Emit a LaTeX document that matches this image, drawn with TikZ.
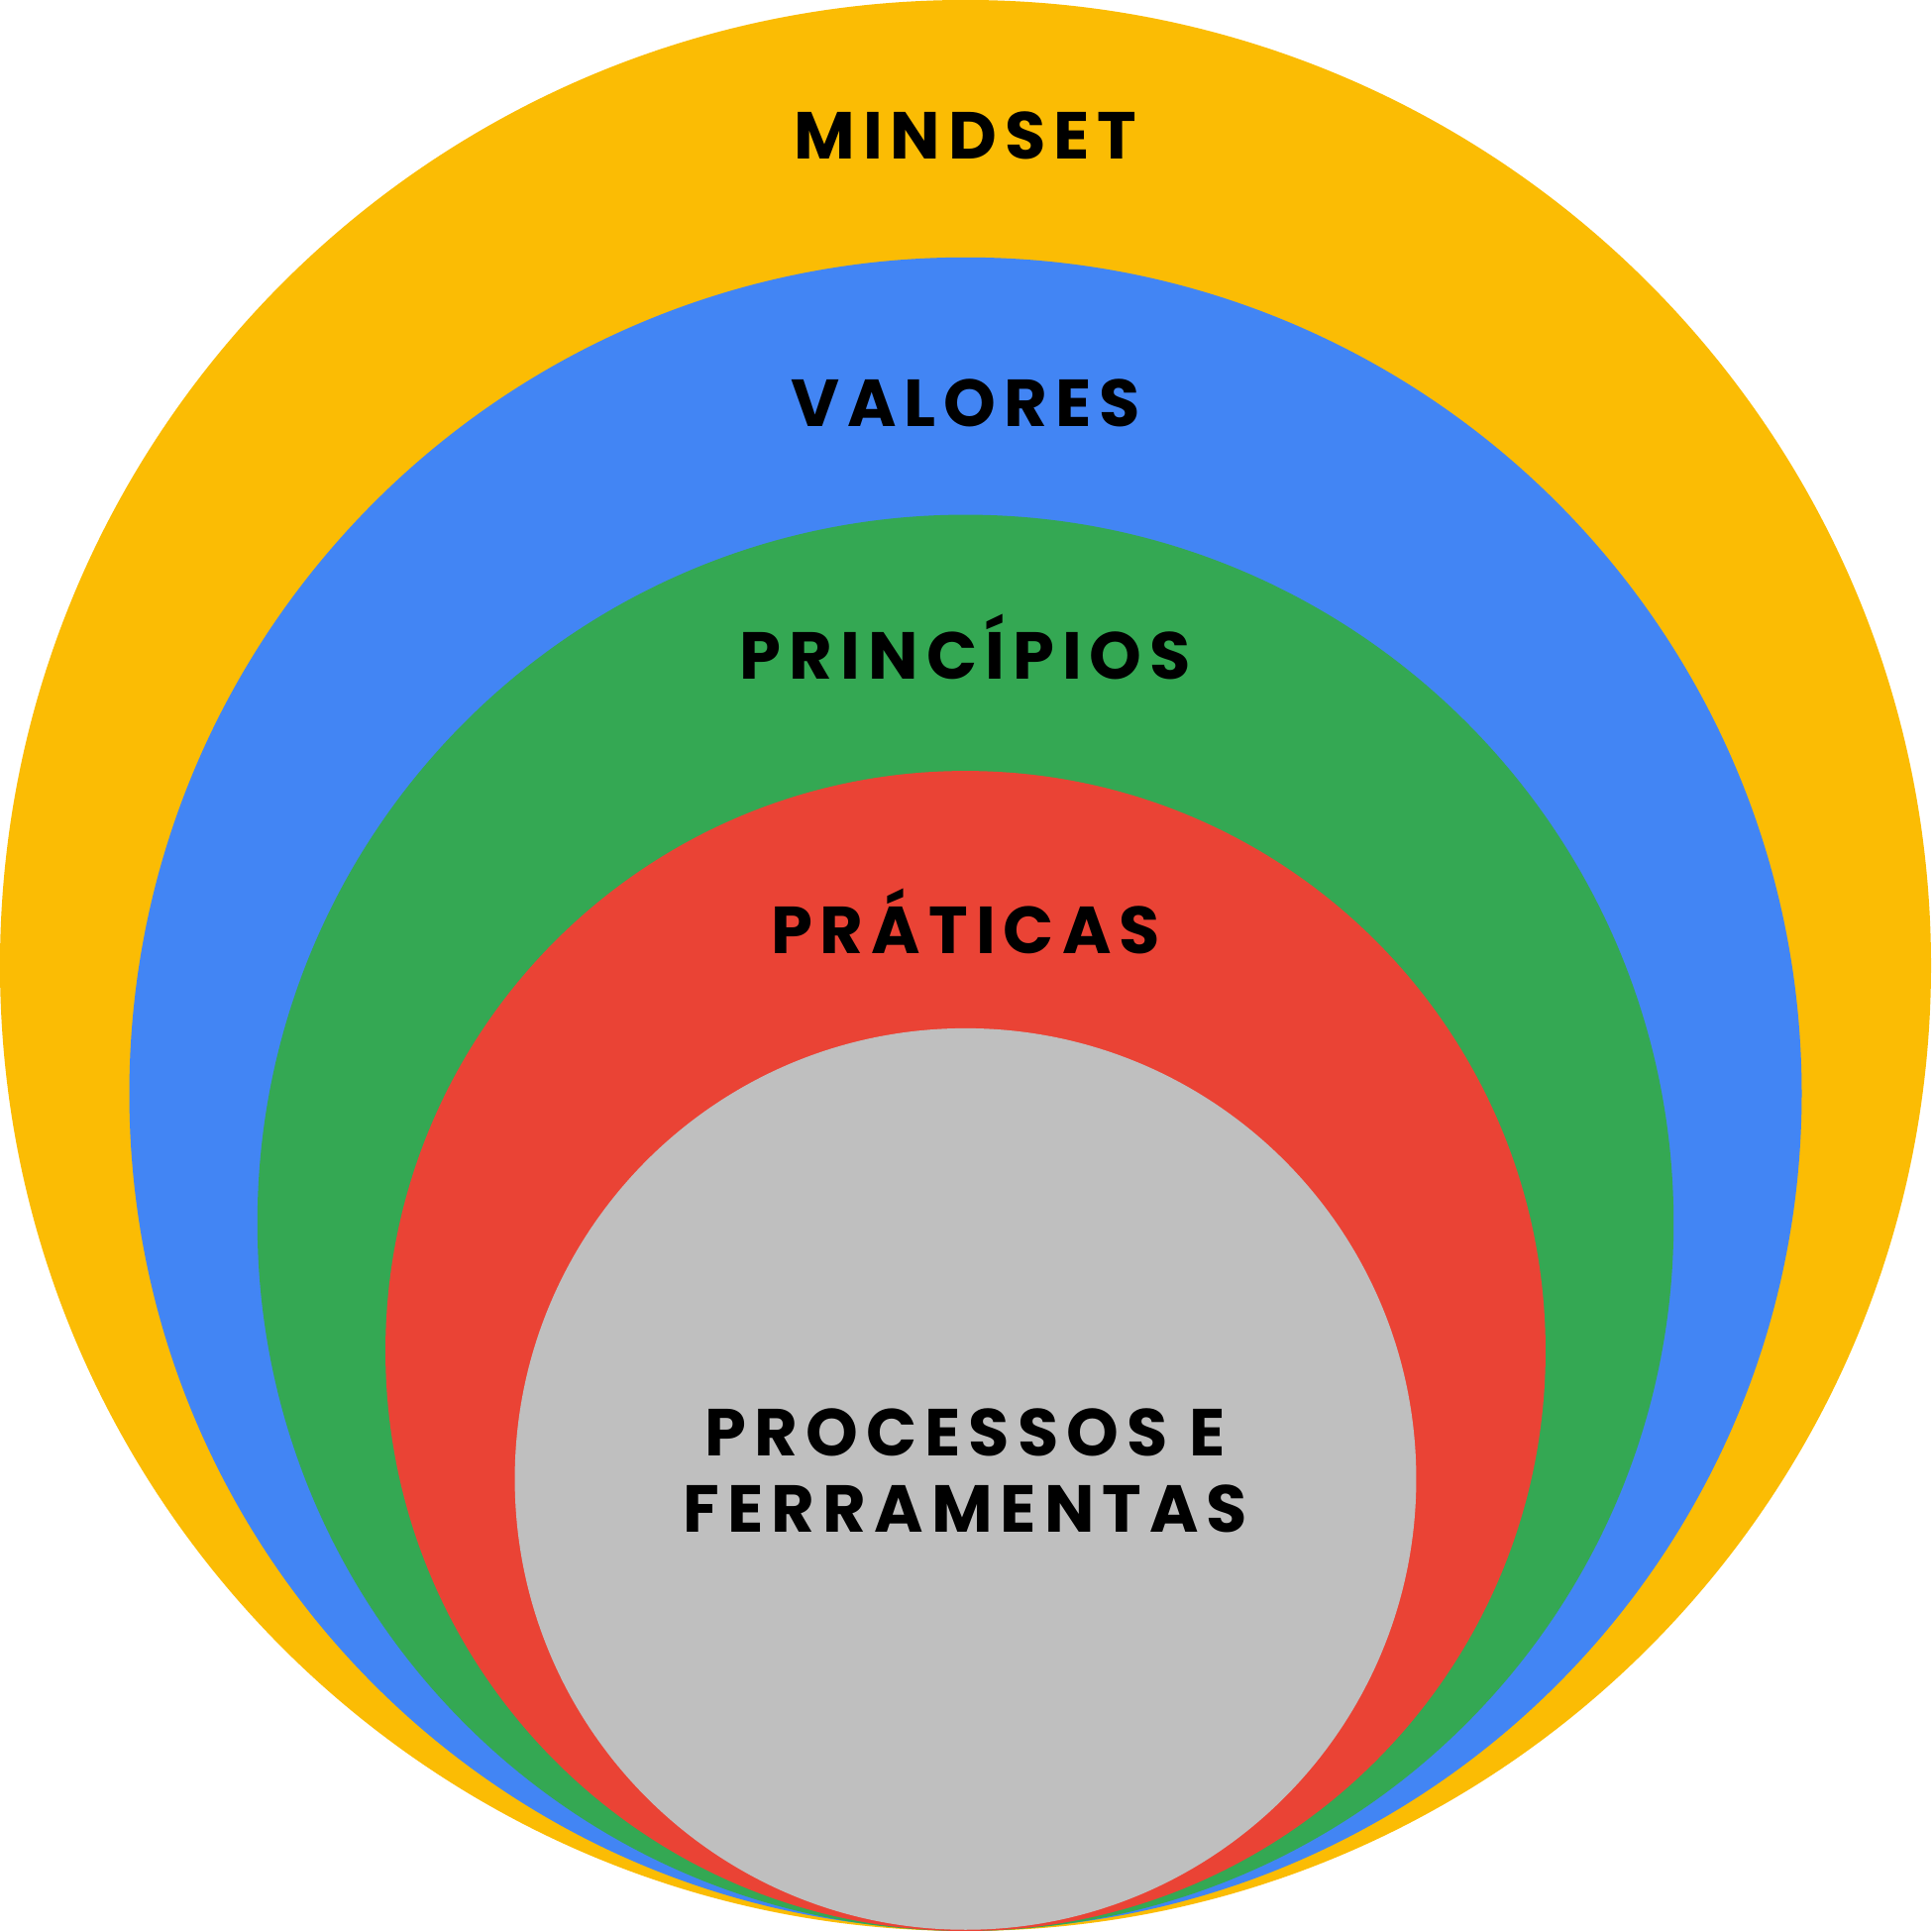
\documentclass[tikz,border=0pt]{standalone}
\usepackage{fontspec}
\setmainfont{Poppins}
\definecolor{gyellow}{HTML}{FBBC04}
\definecolor{gblue}{HTML}{4285F4}
\definecolor{ggreen}{HTML}{34A853}
\definecolor{gred}{HTML}{EA4335}
\definecolor{ggray}{HTML}{BFBFBF}
\tikzset{
  layer/.style={font=\fontsize{54}{62}\selectfont\bfseries\addfontfeatures{LetterSpace=12}, align=center, text=black}
}
\begin{document}
\begin{tikzpicture}[x=1pt, y=1pt]
    \useasboundingbox (0,0) rectangle (1568,1568);
    \coordinate (O1) at (784,784);
    \coordinate (O2) at (784,680);
    \coordinate (O3) at (784,575);
    \coordinate (O4) at (784,471);
    \coordinate (O5) at (784,367);

    \fill[gyellow] (O1) circle (784);
    \fill[gblue] (O2) circle (679);
    \fill[ggreen] (O3) circle (575);
    \fill[gred] (O4) circle (471);
    \fill[ggray] (O5) circle (366);

    \node[layer] (mindset) at (784,1458) {MINDSET};
    \node[layer] (valores) at (784,1241) {VALORES};
    \node[layer] (principios) at (784,1043) {PRINCÍPIOS};
    \node[layer] (praticas) at (784,820) {PRÁTICAS};
    \node[layer] (processos) at (784,374) {PROCESSOS E\\FERRAMENTAS};
\end{tikzpicture}
\end{document}
